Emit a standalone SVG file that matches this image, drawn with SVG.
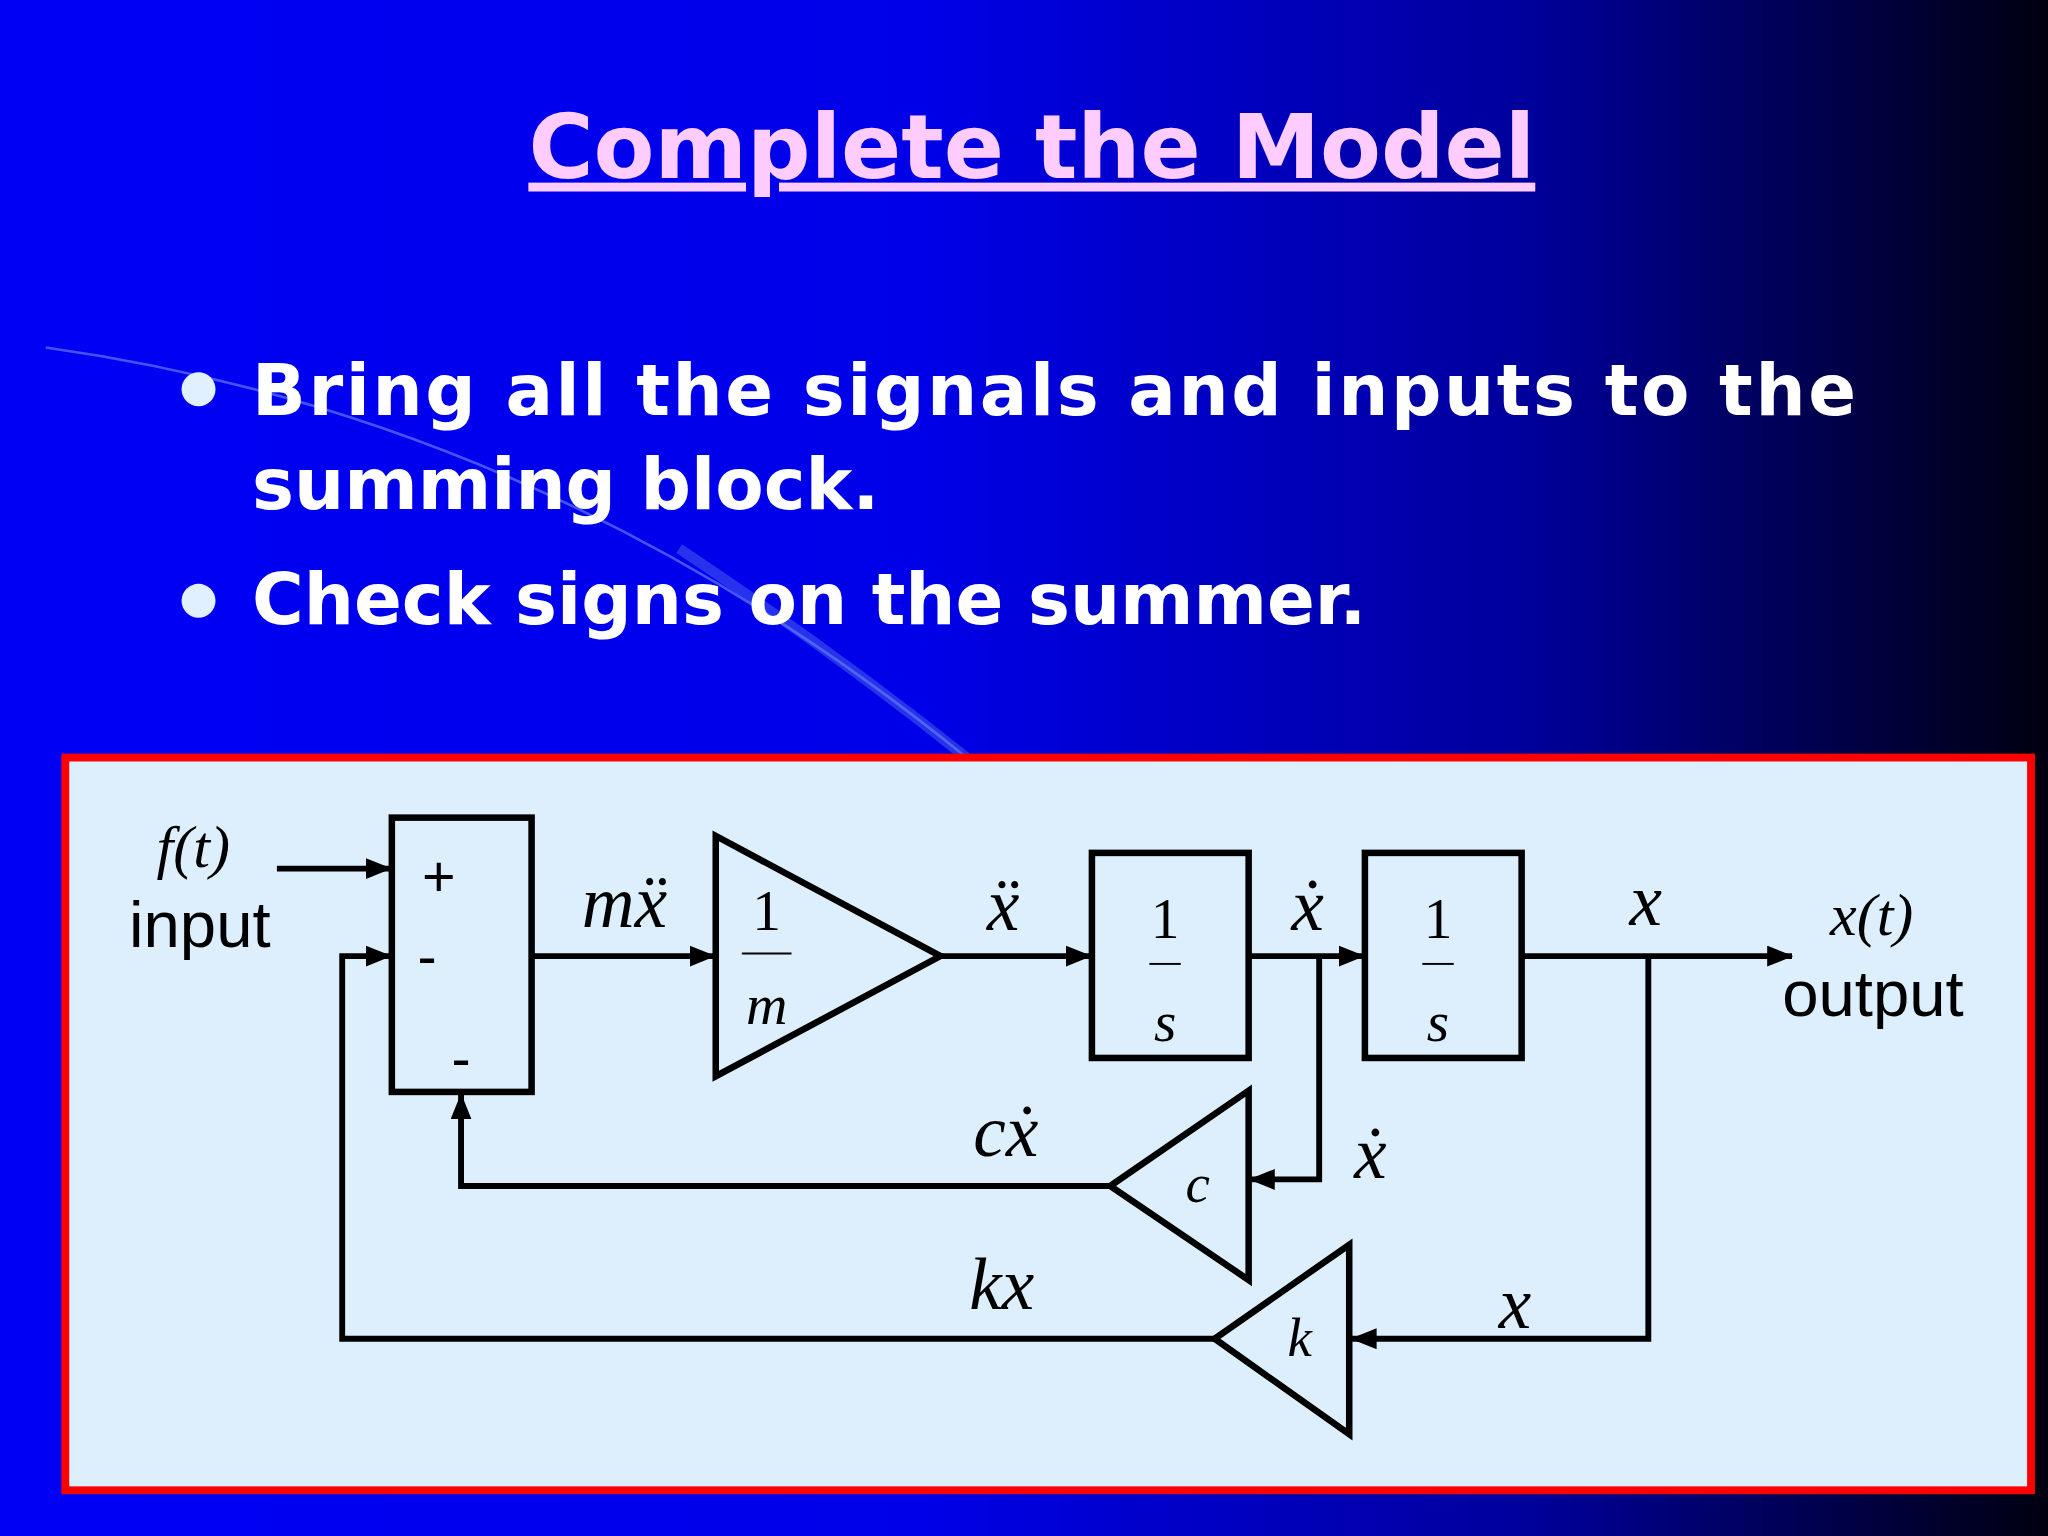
<svg xmlns="http://www.w3.org/2000/svg" width="2048" height="1536" viewBox="0 0 2048 1536">
<defs>
<linearGradient id="bg" x1="0" y1="0" x2="1" y2="0">
<stop offset="0" stop-color="#0000f5"/>
<stop offset="0.45" stop-color="#0000e8"/>
<stop offset="0.75" stop-color="#00009a"/>
<stop offset="1" stop-color="#000010"/>
</linearGradient>
<marker id="ah" markerWidth="20" markerHeight="16" refX="19" refY="8" orient="auto" markerUnits="userSpaceOnUse" viewBox="0 0 20 16">
<path d="M0,0 L20,8 L0,16 z" fill="#000"/>
</marker>
<style>
.ar{fill:none;stroke:#000;stroke-width:4.5;marker-end:url(#ah)}
.blk{fill:none;stroke:#000;stroke-width:5}
.m{font-family:"Liberation Serif",serif;font-style:italic;fill:#000}
.n{font-family:"Liberation Serif",serif;fill:#000}
.s{font-family:"Liberation Sans",Arial,sans-serif;fill:#000}
.b{font-family:"DejaVu Sans",Verdana,sans-serif;font-weight:bold;fill:#fff}
</style>
</defs>
<rect width="2048" height="1536" fill="url(#bg)"/>
<g transform="scale(1.30612)">
<path d="M35,266 Q420,320 740,580" fill="none" stroke="#6f8cff" stroke-width="2" opacity="0.6"/>
<path d="M520,420 Q640,500 740,580" fill="none" stroke="#5e7cf0" stroke-width="8" opacity="0.4"/>
<text x="790" y="136" text-anchor="middle" font-family="DejaVu Sans,Verdana,sans-serif" font-weight="bold" font-size="68" fill="#ffccff" text-decoration="underline">Complete the Model</text>
<g id="bullets">
<circle cx="152" cy="298" r="13" fill="#e0f0ff"/>
<circle cx="152" cy="460" r="13" fill="#e0f0ff"/>
<text class="b" x="193" y="318" font-size="54" textLength="1228" lengthAdjust="spacing">Bring all the signals and inputs to the</text>
<text class="b" x="193" y="390" font-size="54">summing block.</text>
<text class="b" x="193" y="478" font-size="54">Check signs on the summer.</text>
</g>
<rect x="50" y="580" width="1505" height="561" fill="#ddeffc" stroke="#f00" stroke-width="6"/>
<g id="sum"><rect class="blk" x="300" y="626" width="107" height="210"/>
<text class="s" x="336" y="686" font-size="44" text-anchor="middle">+</text>
<text class="s" x="327" y="747" font-size="44" text-anchor="middle">-</text>
<text class="s" x="353" y="825" font-size="44" text-anchor="middle">-</text></g>
<g id="gain"><polygon class="blk" points="548,640 548,824 720,732"/>
<text class="n" x="587" y="712" font-size="44" text-anchor="middle">1</text>
<line x1="568" y1="730" x2="606" y2="730" stroke="#000" stroke-width="1.5"/>
<text class="m" x="587" y="784" font-size="44" text-anchor="middle">m</text></g>
<g id="int1"><rect class="blk" x="836" y="653" width="120" height="157"/>
<text class="n" x="892" y="718" font-size="44" text-anchor="middle">1</text>
<line x1="880" y1="738" x2="904" y2="738" stroke="#000" stroke-width="1.5"/>
<text class="m" x="892" y="797" font-size="44" text-anchor="middle">s</text></g>
<g id="int2"><rect class="blk" x="1045" y="653" width="120" height="157"/>
<text class="n" x="1101" y="718" font-size="44" text-anchor="middle">1</text>
<line x1="1089" y1="738" x2="1113" y2="738" stroke="#000" stroke-width="1.5"/>
<text class="m" x="1101" y="797" font-size="44" text-anchor="middle">s</text></g>
<g id="cgain"><polygon class="blk" points="850,908 956,835 956,980"/>
<text class="m" x="917" y="920" font-size="42" text-anchor="middle">c</text></g>
<g id="kgain"><polygon class="blk" points="930,1025 1033,953 1033,1098"/>
<text class="m" x="995" y="1038" font-size="42" text-anchor="middle">k</text></g>
<g id="connectors">
<line class="ar" x1="212" y1="665" x2="299" y2="665"/>
<line class="ar" x1="407" y1="732" x2="547" y2="732"/>
<line class="ar" x1="720" y1="732" x2="835" y2="732"/>
<line class="ar" x1="956" y1="732" x2="1044" y2="732"/>
<line class="ar" x1="1165" y1="732" x2="1372" y2="732"/>
<polyline class="ar" points="1010,732 1010,903 957,903"/>
<polyline class="ar" points="1262,732 1262,1025 1035,1025"/>
<polyline class="ar" points="850,908 353,908 353,838"/>
<polyline class="ar" points="930,1025 262,1025 262,732 299,732"/>
</g>
<g id="labels">
<text class="m" x="148" y="664" font-size="46" text-anchor="middle">f(t)</text>
<text class="s" x="153" y="725" font-size="50" text-anchor="middle">input</text>
<text class="m" x="478" y="710" font-size="56" text-anchor="middle">mẍ</text>
<text class="m" x="768" y="712" font-size="56" text-anchor="middle">ẍ</text>
<text class="m" x="1001" y="712" font-size="56" text-anchor="middle">ẋ</text>
<text class="m" x="1260" y="708" font-size="56" text-anchor="middle">x</text>
<text class="m" x="1433" y="716" font-size="46" text-anchor="middle">x(t)</text>
<text class="s" x="1434" y="778" font-size="50" text-anchor="middle">output</text>
<text class="m" x="770" y="885" font-size="56" text-anchor="middle">cẋ</text>
<text class="m" x="1049" y="902" font-size="56" text-anchor="middle">ẋ</text>
<text class="m" x="767" y="1002" font-size="56" text-anchor="middle">kx</text>
<text class="m" x="1160" y="1017" font-size="56" text-anchor="middle">x</text>
</g>
</g>
</svg>
